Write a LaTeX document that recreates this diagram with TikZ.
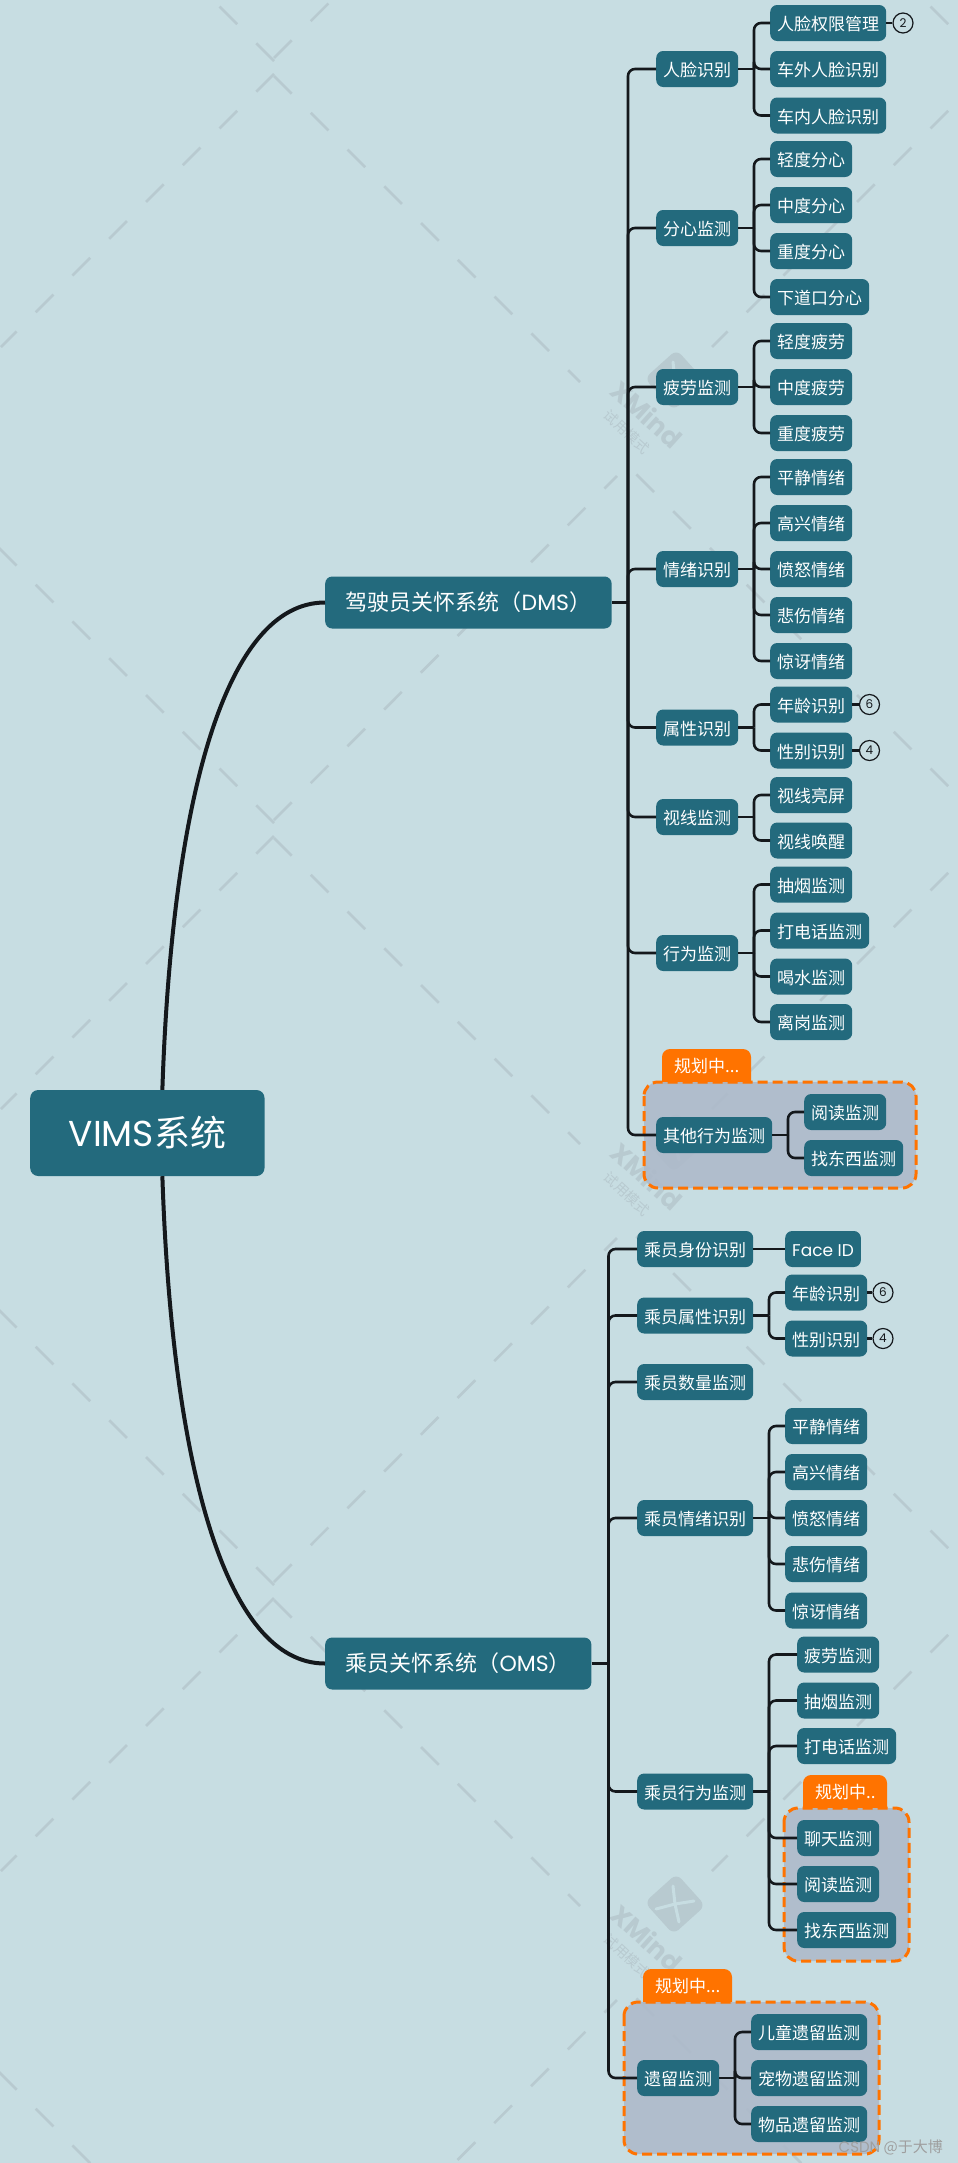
\documentclass[tikz,border=0pt]{standalone}
\usepackage{fontspec}
\setmainfont{Noto Sans CJK SC}
\newfontfamily\latinfont{Poppins}
\definecolor{bgblue}{HTML}{C7DDE2}
\definecolor{boxteal}{HTML}{236A7D}
\definecolor{planorange}{HTML}{FF7300}
\definecolor{groupgrey}{HTML}{AEBACA}
\definecolor{wmgrey}{HTML}{B8CAD0}
\definecolor{linkdark}{HTML}{14181C}
\tikzset{
  rootbox/.style={fill=boxteal,text=white,rounded corners=8pt,anchor=west,minimum height=86pt,inner xsep=38.5pt,inner ysep=0pt,font=\fontsize{36}{40}\selectfont},
  sysbox/.style={fill=boxteal,text=white,rounded corners=7pt,anchor=west,minimum height=52pt,inner xsep=20.5pt,inner ysep=0pt,font=\fontsize{22}{26}\selectfont},
  itembox/.style={fill=boxteal,text=white,rounded corners=7pt,anchor=west,minimum height=36pt,inner xsep=7pt,inner ysep=0pt,text height=15pt,text depth=0pt,font=\fontsize{17}{20}\selectfont},
  plantext/.style={text=white,anchor=west,inner sep=0pt,font=\fontsize{17}{20}\selectfont},
  numbadge/.style={circle,draw=linkdark,line width=1.2pt,fill=bgblue,minimum size=20pt,inner sep=0pt,text=linkdark,font=\latinfont\fontsize{12}{14}\selectfont},
  link/.style={draw=linkdark,line width=2.6pt,rounded corners=7pt},
  curvelink/.style={draw=linkdark,line width=4pt},
  groupbox/.style={fill=groupgrey,fill opacity=.9,draw=planorange,line width=3pt,dash pattern=on 10pt off 5pt,rounded corners=14pt},
  planfill/.style={fill=planorange},
  wmline/.style={draw=wmgrey,line width=2.6pt,dash pattern=on 25pt off 27pt},
}
\begin{document}
\begin{tikzpicture}[x=1pt,y=-1pt]
\useasboundingbox (0,0) rectangle (958,2163);
\fill[bgblue] (0,0) rectangle (958,2163);
% watermark
\begin{scope}
\clip (0,0) rectangle (958,2163);
\foreach \lx in {-36,675}
\foreach \ly in {-382,380,1142,1904}{
\begin{scope}[shift={(\lx,\ly)}]
\draw[wmline] (310,-306)--(37,-33);
\draw[wmline] (310,443)--(-40,93);
\draw[wmline] (-401,440)--(-58,96);
\draw[wmline] (-401,-304)--(-95,2);
\end{scope}
}
\end{scope}
\foreach \ly/\mk in {380/a,1142/b,1904/c}{
\begin{scope}[shift={(675,\ly)}]
\node[fill=wmgrey,rounded corners=7pt,minimum size=43pt,rotate=42,inner sep=0pt] (logo\mk) at (0,0) {};
\draw[bgblue,line width=3pt,line cap=round] (-2,-18)--(0,0)--(4,18);
\draw[bgblue,line width=3pt,line cap=round] (-19,5)--(0,0)--(19,-3);
\node[text=wmgrey,rotate=-42,font=\latinfont\bfseries\fontsize{26}{30}\selectfont] (wmname\mk) at (-28,34) {XMind};
\node[text=wmgrey,rotate=-43,font=\fontsize{14}{16}\selectfont] (wmtrial\mk) at (-48,52) {试用模式};
\end{scope}
}
% planned groups
\path[planfill] (662,1084)[rounded corners=8pt]--(662,1049)--(751,1049)[sharp corners]--(751,1084)--cycle;
\draw[groupbox] (644,1082) rectangle (916,1188);
\node[plantext] (plan1) at (674,1066.5) {规划中...};
\path[planfill] (803,1810)[rounded corners=8pt]--(803,1775)--(887,1775)[sharp corners]--(887,1810)--cycle;
\draw[groupbox] (784,1808) rectangle (909,1961);
\node[plantext] (plan2) at (815,1792.5) {规划中..};
\path[planfill] (643,2004)[rounded corners=8pt]--(643,1969)--(732,1969)[sharp corners]--(732,2004)--cycle;
\draw[groupbox] (624,2002) rectangle (879,2154);
\node[plantext] (plan3) at (655,1986.5) {规划中...};
% main nodes
\node[rootbox] (root) at (30,1133) {{\latinfont VIMS}系统};
\node[sysbox] (dms) at (325,602.5) {驾驶员关怀系统（{\latinfont DMS}）};
\node[sysbox] (oms) at (325,1663.5) {乘员关怀系统（{\latinfont OMS}）};
\draw[curvelink] ([xshift=15pt]root.north) .. controls (172,800) and (225,602.5) .. (dms.west);
\draw[curvelink] ([xshift=15pt]root.south) .. controls (172,1465) and (225,1663.5) .. (oms.west);
% driver branch
\foreach \nm/\y/\txt in {face/69/人脸识别,dist/228/分心监测,tired/387/疲劳监测,mood/569/情绪识别,attr/727.5/属性识别,gaze/817/视线监测,act/953/行为监测,other/1135/其他行为监测}
\node[itembox] (\nm) at (656,\y) {\txt};
\foreach \nm/\y/\txt in {face1/23/人脸权限管理,face2/69/车外人脸识别,face3/115.5/车内人脸识别,
dist1/159/轻度分心,dist2/205/中度分心,dist3/251/重度分心,dist4/297/下道口分心,
tired1/341/轻度疲劳,tired2/387/中度疲劳,tired3/433/重度疲劳,
mood1/477/平静情绪,mood2/523/高兴情绪,mood3/569/愤怒情绪,mood4/615/悲伤情绪,mood5/661/惊讶情绪,
attr1/704.5/年龄识别,attr2/750.5/性别识别,gaze1/795/视线亮屏,gaze2/840.5/视线唤醒,
act1/884.5/抽烟监测,act2/930.5/打电话监测,act3/976.5/喝水监测,act4/1022/离岗监测}
\node[itembox] (\nm) at (770,\y) {\txt};
\node[itembox] (other1) at (804,1112) {阅读监测};
\node[itembox] (other2) at (804,1158) {找东西监测};
\coordinate (dmsfork) at (628,602.5);
\draw[link] (dms.east)--(dmsfork);
\foreach \nm in {face,dist,tired,mood,attr,gaze,act,other}
\draw[link] (dmsfork)|-(\nm.west);
\foreach \nm/\kids in {face/{face1,face2,face3},dist/{dist1,dist2,dist3,dist4},tired/{tired1,tired2,tired3},mood/{mood1,mood2,mood3,mood4,mood5},attr/{attr1,attr2},gaze/{gaze1,gaze2},act/{act1,act2,act3,act4}}{
\coordinate (\nm fork) at (754,0|-\nm.east);
\draw[link] (\nm.east)--(\nm fork);
\foreach \kid in \kids \draw[link] (\nm fork)|-(\kid.west);
}
\coordinate (otherfork) at (788,1135);
\draw[link] (other.east)--(otherfork);
\draw[link] (otherfork)|-(other1.west);
\draw[link] (otherfork)|-(other2.west);
% passenger branch
\foreach \nm/\y/\txt in {pid/1249/乘员身份识别,pattr/1315.5/乘员属性识别,pnum/1382/乘员数量监测,pmood/1518/乘员情绪识别,pact/1791.5/乘员行为监测,left/2078/遗留监测}
\node[itembox] (\nm) at (637,\y) {\txt};
\node[itembox] (pid1) at (785,1249) {\latinfont Face ID};
\foreach \nm/\y/\txt in {pattr1/1292.5/年龄识别,pattr2/1338.5/性别识别,
pmood1/1426/平静情绪,pmood2/1472/高兴情绪,pmood3/1518/愤怒情绪,pmood4/1564/悲伤情绪,pmood5/1610.5/惊讶情绪}
\node[itembox] (\nm) at (785,\y) {\txt};
\foreach \nm/\y/\txt in {pact1/1654.5/疲劳监测,pact2/1700.5/抽烟监测,pact3/1746/打电话监测,pact4/1838/聊天监测,pact5/1884/阅读监测,pact6/1930/找东西监测}
\node[itembox] (\nm) at (797,\y) {\txt};
\foreach \nm/\y/\txt in {left1/2032/儿童遗留监测,left2/2078/宠物遗留监测,left3/2124/物品遗留监测}
\node[itembox] (\nm) at (751,\y) {\txt};
\coordinate (omsfork) at (608.5,1663.5);
\draw[link] (oms.east)--(omsfork);
\foreach \nm in {pid,pattr,pnum,pmood,pact,left}
\draw[link] (omsfork)|-(\nm.west);
\draw[link] (pid.east)--(pid1.west);
\foreach \nm/\fx/\kids in {pattr/769/{pattr1,pattr2},pmood/769/{pmood1,pmood2,pmood3,pmood4,pmood5},pact/769/{pact1,pact2,pact3,pact4,pact5,pact6},left/735/{left1,left2,left3}}{
\coordinate (\nm fork) at (\fx,0|-\nm.east);
\draw[link] (\nm.east)--(\nm fork);
\foreach \kid in \kids \draw[link] (\nm fork)|-(\kid.west);
}
% number badges
\foreach \nm/\bx/\num/\on in {b1/903/2/face1,b2/869.5/6/attr1,b3/869.5/4/attr2,b4/883/6/pattr1,b5/883/4/pattr2}{
\node[numbadge] (\nm) at (\bx,0|-\on.east) {\num};
\draw[link] (\on.east)--(\nm.west);
}
\node[text=gray!75,anchor=east,inner sep=0pt,font=\fontsize{15}{18}\selectfont] (csdn) at (943,2147) {{\latinfont CSDN} @于大博};
\end{tikzpicture}
\end{document}
